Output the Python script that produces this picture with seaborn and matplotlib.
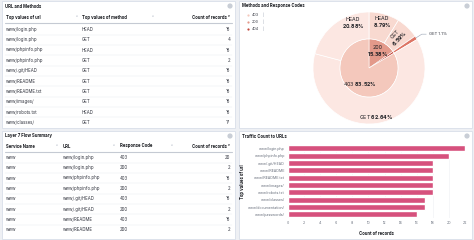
import matplotlib.pyplot as plt
import matplotlib.patches as mpatches
import numpy as np
import seaborn as sns

# ---- data: URL and Methods table
url_top = ['www/login.php', 'www/login.php', 'www/phpinfo.php', 'www/phpinfo.php',
           'www/.git/HEAD', 'www/README', 'www/README.txt', 'www/images/',
           'www/robots.txt', 'www/classes/']
method_top = ['HEAD', 'GET', 'HEAD', 'GET', 'GET', 'GET', 'GET', 'GET', 'HEAD', 'GET']
count_top = [18, 4, 18, 2, 18, 18, 18, 18, 18, 17]

# ---- data: Layer 7 Flow Summary table
service_l7 = ['www', 'www', 'www', 'www', 'www', 'www', 'www', 'www']
url_l7 = ['www/login.php', 'www/login.php', 'www/phpinfo.php', 'www/phpinfo.php',
          'www/.git/HEAD', 'www/.git/HEAD', 'www/README', 'www/README']
code_l7 = ['403', '200', '403', '200', '403', '200', '403', '200']
count_l7 = [20, 2, 18, 2, 18, 2, 18, 2]

# ---- data: Methods and Response Codes (sunburst)
codes = ['200', '404', '403']
code_share = [15.38, 1.1, 83.52]
sub_method = [['HEAD', 'GET'], ['GET'], ['GET', 'HEAD']]
sub_share = [[8.79, 6.59], [1.1], [62.64, 20.88]]
legend_codes = ['403', '200', '404']

# ---- data: Traffic Count to URLs
bar_urls = ['www/login.php', 'www/phpinfo.php', 'www/.git/HEAD', 'www/README',
            'www/README.txt', 'www/images/', 'www/robots.txt', 'www/classes/',
            'www/documentation/', 'www/passwords/']
bar_counts = [22, 20, 18, 18, 18, 18, 18, 17, 17, 16]

sns.set_theme(style='white')
plt.rcParams['font.family'] = ['Inter', 'DejaVu Sans']
plt.rcParams['mathtext.fontset'] = 'custom'
plt.rcParams['mathtext.rm'] = 'Inter'
plt.rcParams['mathtext.bf'] = 'Inter:bold'

W, H = 474, 240
TXT = '#343741'
HDR = '#1a1c21'
inner_col = {'403': '#f4c8bc', '200': '#e3998a', '404': '#c4483c'}
outer_col = {'403': '#fce7e2', '200': '#f8d9d0', '404': '#dd7565'}

fig = plt.figure(figsize=(W / 100, H / 100), dpi=100)
fig.patch.set_facecolor('#eef0f4')


def px_axes(x0, y0, x1, y1):
    return fig.add_axes([x0 / W, 1 - y1 / H, (x1 - x0) / W, (y1 - y0) / H])


bg = px_axes(0, 0, W, H)
bg.set_xlim(0, W)
bg.set_ylim(H, 0)
bg.axis('off')

panels = [(2, 1, 235, 128), (239, 1, 472, 128), (2, 131, 235, 239), (239, 131, 472, 239)]
titles = ['URL and Methods', 'Methods and Response Codes', 'Layer 7 Flow Summary', 'Traffic Count to URLs']
for (x0, y0, x1, y1), t in zip(panels, titles):
    bg.add_patch(mpatches.Rectangle((x0, y0), x1 - x0, y1 - y0, facecolor='white',
                                    edgecolor='#d3dae6', lw=0.5))
    bg.text(x0 + 3, y0 + 5, t, fontsize=3.1, fontweight='bold', color=HDR, va='center')
    bg.add_patch(mpatches.Circle((x1 - 5, y0 + 5), 2.6, facecolor='#c9ced6', edgecolor='none'))


def draw_table(cols, headers, xs, right_last, y_head, y_rows, marks):
    for h, x in zip(headers[:-1], xs):
        bg.text(x, y_head, h, fontsize=3.1, fontweight='bold', color=HDR, va='center')
    bg.text(right_last, y_head, headers[-1] + ' ˅', fontsize=3.1, fontweight='bold',
            color=HDR, va='center', ha='right')
    for m in marks:
        bg.text(m, y_head, '˅', fontsize=3, color='#98a2b3', va='center', ha='center')
    bg.plot([5, 232], [y_head + 5.5, y_head + 5.5], color='#c5cad3', lw=0.8)
    for i, y in enumerate(y_rows):
        for col, x in zip(cols[:-1], xs):
            bg.text(x, y, col[i], fontsize=3.1, color=TXT, va='center')
        bg.text(right_last, y, str(cols[-1][i]), fontsize=3.1, color=TXT, va='center', ha='right')
        if i < len(y_rows) - 1:
            bg.plot([5, 232], [y + 5.2, y + 5.2], color='#e6e9ef', lw=0.3)


draw_table([url_top, method_top, count_top],
           ['Top values of url', 'Top values of method', 'Count of records'],
           [6, 82], 230, 17.3, [29.3 + 10.35 * i for i in range(len(url_top))], [77, 153])

draw_table([service_l7, url_l7, code_l7, count_l7],
           ['Service Name', 'URL', 'Response Code', 'Count of records'],
           [6, 63, 120], 230, 146, [157.3 + 10.35 * i for i in range(len(url_l7))], [57, 114, 172])

# ---- sunburst
R = 56.0
cx, cy = 369, 68
px0, py0, px1, py1 = 239.5, 1.5, 471.5, 127.5
pie = px_axes(px0, py0, px1, py1)
pie.pie(code_share, radius=0.52, colors=[inner_col[c] for c in codes], startangle=90,
        counterclock=False, wedgeprops=dict(edgecolor='white', linewidth=0.4))
flat_share = [v for grp in sub_share for v in grp]
flat_col = [outer_col[c] for c, grp in zip(codes, sub_share) for _ in grp]
pie.pie(flat_share, radius=1.0, colors=flat_col, startangle=90, counterclock=False,
        wedgeprops=dict(width=0.48, edgecolor='white', linewidth=0.5))
pie.set_aspect('auto')
pie.set_xlim((px0 - cx) / R, (px1 - cx) / R)
pie.set_ylim((cy - py1) / R, (cy - py0) / R)
pie.patch.set_alpha(0)
pie.axis('off')


def pos(theta, r):
    a = np.deg2rad(theta)
    return r * np.sin(a), r * np.cos(a)


def pct(v):
    return r'$\mathbf{' + f'{v:g}' + r'\%}$'


def top_angle(a0, a1):
    # label angle inside the slice, pulled toward 12 o'clock
    margin = min((a1 - a0) / 2, 20)
    lo, hi = a0 + margin, a1 - margin
    return lo if lo <= 360 - hi else hi


# inner labels
start = 0
for c, v in zip(codes, code_share):
    mid = start + v * 3.6 / 2
    if v > 50:
        x, y = pos(mid, 0.32)
        pie.text(x, y, f'{c} ' + pct(v), fontsize=3.8, color=HDR, ha='center', va='center')
    elif v > 5:
        x, y = pos(mid, 0.33)
        pie.text(x, y, f'{c}\n' + pct(v), fontsize=3.8, color=HDR, ha='center', va='center',
                 linespacing=0.95)
    start += v * 3.6

# outer labels
start = 0
for grp_m, grp_v in zip(sub_method, sub_share):
    for m, v in zip(grp_m, grp_v):
        end = start + v * 3.6
        mid = (start + end) / 2
        if v < 3:
            x0, y0 = pos(mid, 1.0)
            x1, y1 = pos(mid, 1.12)
            pie.plot([x0, x1, x1 + 0.08], [y0, y1, y1], color='#98a2b3', lw=0.4)
            pie.text(x1 + 0.12, y1, f'{m} {v:g}%', fontsize=3.0, color=TXT, va='center')
        elif v > 50:
            x, y = pos(mid, 0.88)
            pie.text(x, y, f'{m} ' + pct(v), fontsize=3.8, color=HDR, ha='center', va='center')
        elif v < 8:
            x, y = pos(mid, 0.76)
            pie.text(x, y, f'{m}\n' + pct(v), fontsize=3.8, color=HDR, ha='center', va='center',
                     rotation=90 - mid, linespacing=0.95)
        else:
            x, y = pos(top_angle(start, end), 0.84)
            pie.text(x, y, f'{m}\n' + pct(v), fontsize=3.8, color=HDR, ha='center', va='center',
                     linespacing=0.95)
        start = end

# legend
for i, c in enumerate(legend_codes):
    y = 15 + 7 * i
    bg.plot(248, y, 'o', ms=1.6, color=inner_col[c], mec='none')
    bg.text(252, y, c, fontsize=2.7, color=TXT, va='center')
    bg.text(263, y, '|', fontsize=2.7, color='#98a2b3', va='center')

# ---- bar chart
ax = px_axes(288, 144.7, 465, 218)
sns.barplot(x=bar_counts, y=bar_urls, orient='h', color='#d6517d', saturation=1,
            width=0.8, ax=ax)
ax.set_facecolor('none')
ax.set_xlim(0, 22)
ax.set_xticks(range(0, 23, 2))
ax.tick_params(axis='both', labelsize=2.6, colors='#69707d', length=0, pad=2.2)
ax.grid(axis='x', color='#eef0f3', lw=0.4)
ax.set_axisbelow(True)
for s in ax.spines.values():
    s.set_visible(False)
ax.set_xlabel('Count of records', fontsize=3.1, fontweight='bold', color=HDR)
ax.set_ylabel('Top values of url', fontsize=3.1, fontweight='bold', color=HDR)
ax.xaxis.set_label_coords(0.5, -0.18)
ax.yaxis.set_label_coords(-0.243, 0.5)

fig.savefig('out.png', dpi=100, facecolor=fig.get_facecolor())
